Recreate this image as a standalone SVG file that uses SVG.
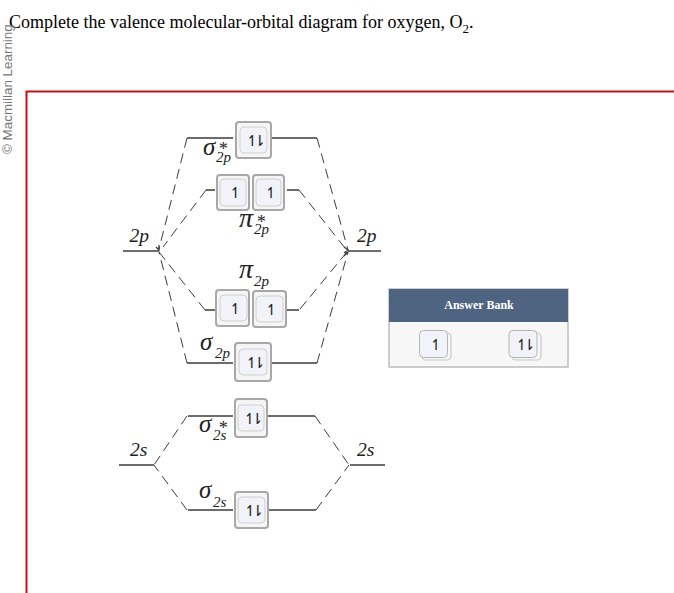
<svg xmlns="http://www.w3.org/2000/svg" width="674" height="593" viewBox="0 0 674 593">
<style>
.bg{fill:#fff}
.lvl{stroke:#3c3c3c;stroke-width:1.3;fill:none}
.dash{stroke:#3c3c3c;stroke-width:1;fill:none;stroke-dasharray:10 6}
.outer{fill:#f5f5f5;stroke:#a8a8a8;stroke-width:2}
.inner{fill:#f1f3f8;stroke:#cfcfcf;stroke-width:1}
.tok{font:15px "DejaVu Sans",sans-serif;letter-spacing:-5px;text-anchor:middle;fill:#1a1a1a}
.m{font-family:"Liberation Serif",serif;font-style:italic;fill:#222}
.sym{font-size:25px}.pi{font-size:28px}.sub{font-size:15px}.star{font-size:18px}.lab{font-size:19.500px}
.shadow{fill:#f7f7f7;stroke:#c8c8c8;stroke-width:1.2}
</style>
<rect class="bg" width="674" height="593"/>
<text x="9" y="28" font-family="'Liberation Serif',serif" font-size="18" fill="#000">Complete the valence molecular-orbital diagram for oxygen, O<tspan font-size="13" dy="5">2</tspan><tspan dy="-5">.</tspan></text>
<text transform="translate(12,154) rotate(-90)" font-family="'Liberation Sans',sans-serif" font-size="13.400" fill="#777">© Macmillan Learning</text>
<path d="M26.500 593V91.500H674" fill="none" stroke="#c4111f" stroke-width="2"/>
<g id="connectors">
<path class="dash" d="M187 138L159 249M206 190L163 247M205 310L159 252M187 363L159 252M187 416L154 465M187 510L154 465"/>
<path class="dash" d="M317 138L348 250M299 190L345 248M300 309L347 252M317 363L348 252M315 416L349 465M316 510L349 465"/>
<path class="lvl" d="M159 245L159 250L156 247M344 247L348 250L344 253M344 256L348 252"/>
</g>
<g id="level-left-2p"><path class="lvl" d="M123 251H159"/><text class="m lab" x="129.500" y="241.500">2p</text></g>
<g id="level-right-2p"><path class="lvl" d="M348 251H381"/><text class="m lab" x="357" y="241.500">2p</text></g>
<g id="level-left-2s"><path class="lvl" d="M119 465H154"/><text class="m lab" x="130" y="456">2s</text></g>
<g id="level-right-2s"><path class="lvl" d="M350 465H385"/><text class="m lab" x="357" y="456">2s</text></g>
<g id="sigma-star-2p">
<path class="lvl" d="M187 138H233M272 138H317"/>
<rect class="outer" x="236" y="122" width="35" height="36" rx="3"/><rect class="inner" x="240" y="127" width="27" height="26" rx="4"/>
<text class="tok" x="253.500" y="146">↿⇂</text>
<text class="m sym" x="203" y="155">σ</text><text class="m star" x="218" y="155">*</text><text class="m sub" x="216" y="162">2p</text>
</g>
<g id="pi-star-2p">
<path class="lvl" d="M206 190H215M287 190H299"/>
<rect class="outer" x="217" y="175" width="32" height="35" rx="3"/><rect class="inner" x="220" y="179" width="26" height="27" rx="4"/>
<text class="tok" x="233" y="198">↿</text>
<rect class="outer" x="253" y="175" width="31" height="35" rx="3"/><rect class="inner" x="256" y="179" width="25" height="27" rx="4"/>
<text class="tok" x="268.500" y="198">↿</text>
<text class="m pi" x="239" y="227">π</text><text class="m star" x="256" y="228">*</text><text class="m sub" x="254" y="234">2p</text>
</g>
<g id="pi-2p">
<path class="lvl" d="M205 310H215M287 310H299"/>
<rect class="outer" x="216" y="290" width="33" height="36" rx="3"/><rect class="inner" x="220" y="295" width="27" height="26" rx="4"/>
<text class="tok" x="233" y="314">↿</text>
<rect class="outer" x="253" y="291" width="33" height="36" rx="3"/><rect class="inner" x="256" y="296" width="27" height="26" rx="4"/>
<text class="tok" x="269" y="315">↿</text>
<text class="m pi" x="239" y="278">π</text><text class="m sub" x="254" y="286">2p</text>
</g>
<g id="sigma-2p">
<path class="lvl" d="M187 363H233M272 363H317"/>
<rect class="outer" x="235" y="343" width="36" height="38" rx="3"/><rect class="inner" x="239" y="349" width="28" height="26" rx="4"/>
<text class="tok" x="253" y="368">↿⇂</text>
<text class="m sym" x="200" y="350">σ</text><text class="m sub" x="215" y="358">2p</text>
</g>
<g id="sigma-star-2s">
<path class="lvl" d="M188 416H233M268 416H315"/>
<rect class="outer" x="235" y="399" width="32" height="38" rx="3"/><rect class="inner" x="238" y="405" width="26" height="26" rx="4"/>
<text class="tok" x="251" y="424">↿⇂</text>
<text class="m sym" x="199" y="432">σ</text><text class="m star" x="218" y="434">*</text><text class="m sub" x="213" y="440">2s</text>
</g>
<g id="sigma-2s">
<path class="lvl" d="M188 510H233M268 510H316"/>
<rect class="outer" x="235" y="492" width="33" height="36" rx="3"/><rect class="inner" x="238" y="497" width="27" height="26" rx="4"/>
<text class="tok" x="251.500" y="516">↿⇂</text>
<text class="m sym" x="199" y="498">σ</text><text class="m sub" x="213" y="507">2s</text>
</g>
<g id="answer-bank">
<rect x="389" y="289" width="179" height="78" fill="#f7f7f7" stroke="#bdbdbd" stroke-width="1.500"/>
<rect x="389" y="289" width="179" height="33" fill="#4f6480"/>
<text x="479" y="309" font-family="'Liberation Serif',serif" font-size="12" font-weight="bold" fill="#fff" text-anchor="middle">Answer Bank</text>
<rect class="shadow" x="422" y="333" width="29" height="27" rx="4"/><rect x="419.500" y="330.500" width="28" height="27" rx="4" fill="#f1f3f8" stroke="#b5b5b5"/>
<text class="tok" x="433.500" y="350">↿</text>
<rect class="shadow" x="512" y="333" width="29" height="27" rx="4"/><rect x="509" y="330.500" width="28" height="27" rx="4" fill="#f1f3f8" stroke="#b5b5b5"/>
<text class="tok" x="523" y="350">↿⇂</text>
</g>
</svg>
